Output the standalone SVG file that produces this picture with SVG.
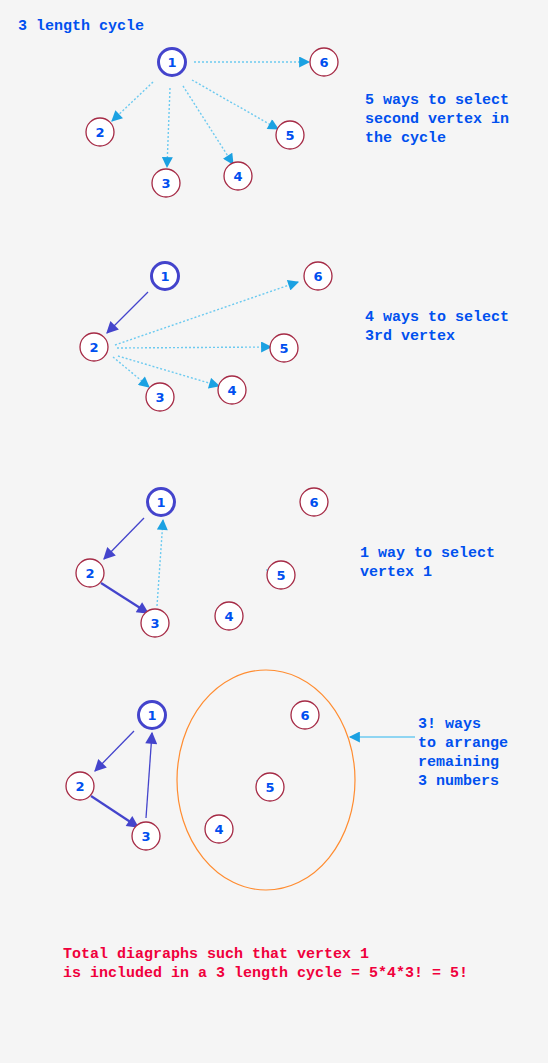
<svg xmlns="http://www.w3.org/2000/svg" width="548" height="1063" viewBox="0 0 548 1063">
<defs>
<marker id="al" viewBox="0 0 10 10" refX="9" refY="5" markerWidth="12" markerHeight="11" orient="auto" markerUnits="userSpaceOnUse">
<path d="M0,0 L10,5 L0,10 Z" fill="#1ba1e2"/>
</marker>
<marker id="ab" viewBox="0 0 10 10" refX="9" refY="5" markerWidth="14" markerHeight="12" orient="auto" markerUnits="userSpaceOnUse">
<path d="M0,0 L10,5 L0,10 Z" fill="#4444cc"/>
</marker>
<style>
.bg{fill:#f5f5f5}
.n circle{fill:#ffffff;stroke:#a52a45;stroke-width:1.3}
.n.s circle{stroke:#4444cc;stroke-width:3}
.n text{font-family:"DejaVu Sans","Liberation Sans",sans-serif;font-weight:bold;font-size:13px;fill:#0050ef;text-anchor:middle}
.t{font-family:"Liberation Mono","DejaVu Sans Mono",monospace;font-size:15px;font-weight:bold;fill:#0050ef}
.r{fill:#f0003c}
.d{stroke:#6ccaf0;stroke-width:1.4;stroke-dasharray:2 2;fill:none}
.b{stroke:#4444cc;stroke-width:1.3;fill:none}
.bt{stroke:#4444cc;stroke-width:2.2;fill:none}
</style>
</defs>
<rect class="bg" x="0" y="0" width="548" height="1063"/>

<g id="connectors">
<!-- section 1 -->
<line class="d" x1="194" y1="62" x2="309" y2="62" marker-end="url(#al)"/>
<line class="d" x1="153" y1="82" x2="112" y2="121" marker-end="url(#al)"/>
<line class="d" x1="170" y1="88" x2="167" y2="167" marker-end="url(#al)"/>
<line class="d" x1="183" y1="86" x2="233" y2="164" marker-end="url(#al)"/>
<line class="d" x1="192" y1="80" x2="278" y2="129" marker-end="url(#al)"/>
<!-- section 2 -->
<line class="b" x1="148" y1="292" x2="107" y2="333" marker-end="url(#ab)"/>
<line class="d" x1="115" y1="345" x2="298" y2="282" marker-end="url(#al)"/>
<line class="d" x1="117" y1="348" x2="271" y2="347" marker-end="url(#al)"/>
<line class="d" x1="118" y1="356" x2="219" y2="386" marker-end="url(#al)"/>
<line class="d" x1="113" y1="357" x2="149" y2="387" marker-end="url(#al)"/>
<!-- section 3 -->
<line class="b" x1="144" y1="518" x2="104" y2="559" marker-end="url(#ab)"/>
<line class="bt" x1="101" y1="583" x2="148" y2="613" marker-end="url(#ab)"/>
<line class="d" x1="157" y1="606" x2="163" y2="520" marker-end="url(#al)"/>
<line class="d" x1="215" y1="611" x2="217" y2="611"/>
<line class="d" x1="266" y1="570" x2="268" y2="570"/>
<!-- section 4 -->
<line class="b" x1="134" y1="731" x2="95" y2="771" marker-end="url(#ab)"/>
<line class="bt" x1="91" y1="796" x2="138" y2="827" marker-end="url(#ab)"/>
<line class="b" x1="146" y1="818" x2="152" y2="733" marker-end="url(#ab)"/>
<line class="d" x1="205" y1="824" x2="207" y2="824"/>
<line class="d" x1="256" y1="781" x2="258" y2="781"/>
<line x1="415" y1="737" x2="350" y2="737" stroke="#6ccaf0" stroke-width="1.6" marker-end="url(#al)"/>
</g>

<ellipse id="group-ellipse" cx="266" cy="780" rx="89" ry="110" fill="none" stroke="#ff8c30" stroke-width="1.2"/>

<g id="s1">
<g id="s1n1" class="n s"><circle cx="172" cy="62" r="13.5"/><text x="172" y="67">1</text></g>
<g id="s1n2" class="n"><circle cx="100" cy="132" r="14"/><text x="100" y="137">2</text></g>
<g id="s1n3" class="n"><circle cx="166" cy="183" r="14"/><text x="166" y="188">3</text></g>
<g id="s1n4" class="n"><circle cx="238" cy="176" r="14"/><text x="238" y="181">4</text></g>
<g id="s1n5" class="n"><circle cx="290" cy="135" r="14"/><text x="290" y="140">5</text></g>
<g id="s1n6" class="n"><circle cx="324" cy="62" r="14"/><text x="324" y="67">6</text></g>
</g>
<g id="s2">
<g id="s2n1" class="n s"><circle cx="165" cy="276" r="13.5"/><text x="165" y="281">1</text></g>
<g id="s2n2" class="n"><circle cx="94" cy="347" r="14"/><text x="94" y="352">2</text></g>
<g id="s2n3" class="n"><circle cx="160" cy="397" r="14"/><text x="160" y="402">3</text></g>
<g id="s2n4" class="n"><circle cx="232" cy="390" r="14"/><text x="232" y="395">4</text></g>
<g id="s2n5" class="n"><circle cx="284" cy="348" r="14"/><text x="284" y="353">5</text></g>
<g id="s2n6" class="n"><circle cx="318" cy="276" r="14"/><text x="318" y="281">6</text></g>
</g>
<g id="s3">
<g id="s3n1" class="n s"><circle cx="161" cy="502" r="13.5"/><text x="161" y="507">1</text></g>
<g id="s3n2" class="n"><circle cx="90" cy="573" r="14"/><text x="90" y="578">2</text></g>
<g id="s3n3" class="n"><circle cx="155" cy="623" r="14"/><text x="155" y="628">3</text></g>
<g id="s3n4" class="n"><circle cx="229" cy="616" r="14"/><text x="229" y="621">4</text></g>
<g id="s3n5" class="n"><circle cx="281" cy="575" r="14"/><text x="281" y="580">5</text></g>
<g id="s3n6" class="n"><circle cx="314" cy="502" r="14"/><text x="314" y="507">6</text></g>
</g>
<g id="s4">
<g id="s4n1" class="n s"><circle cx="152" cy="715" r="13.5"/><text x="152" y="720">1</text></g>
<g id="s4n2" class="n"><circle cx="80" cy="786" r="14"/><text x="80" y="791">2</text></g>
<g id="s4n3" class="n"><circle cx="146" cy="836" r="14"/><text x="146" y="841">3</text></g>
<g id="s4n4" class="n"><circle cx="219" cy="829" r="14"/><text x="219" y="834">4</text></g>
<g id="s4n5" class="n"><circle cx="270" cy="787" r="14"/><text x="270" y="792">5</text></g>
<g id="s4n6" class="n"><circle cx="305" cy="715" r="14"/><text x="305" y="720">6</text></g>
</g>

<g id="labels">
<text class="t" x="18" y="30">3 length cycle</text>
<text class="t" x="365" y="104">5 ways to select</text>
<text class="t" x="365" y="123">second vertex in</text>
<text class="t" x="365" y="142">the cycle</text>
<text class="t" x="365" y="321">4 ways to select</text>
<text class="t" x="365" y="340">3rd vertex</text>
<text class="t" x="360" y="557">1 way to select</text>
<text class="t" x="360" y="576">vertex 1</text>
<text class="t" x="418" y="728">3! ways</text>
<text class="t" x="418" y="747">to arrange</text>
<text class="t" x="418" y="766">remaining</text>
<text class="t" x="418" y="785">3 numbers</text>
<text class="t r" x="63" y="958">Total diagraphs such that vertex 1</text>
<text class="t r" x="63" y="977">is included in a 3 length cycle = 5*4*3! = 5!</text>
</g>
</svg>
